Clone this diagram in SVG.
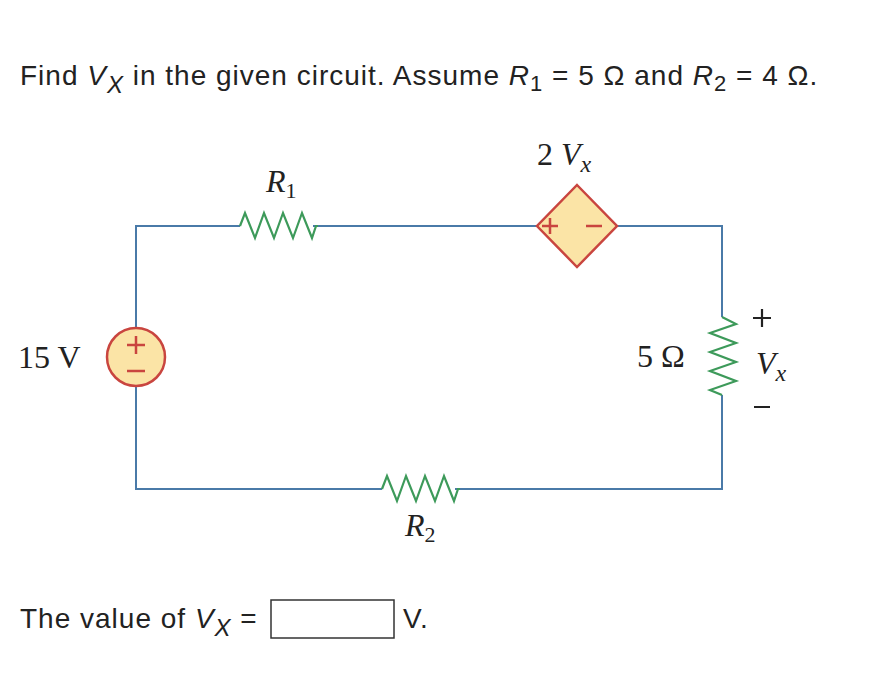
<svg xmlns="http://www.w3.org/2000/svg" width="880" height="678" viewBox="0 0 880 678">
<style>
.w{fill:none;stroke:#4a7aa8;stroke-width:2}
.r{fill:none;stroke:#3d9a5a;stroke-width:2.2;stroke-linejoin:miter}
.src{fill:#fbe4a6;stroke:#c9453f;stroke-width:2.5}
.pm{stroke:#c9453f;stroke-width:2.5;fill:none}
.q{font-family:"Liberation Sans",Arial,sans-serif;font-size:28px;fill:#222;letter-spacing:1px}
.c{font-family:"Liberation Serif","Times New Roman",serif;font-size:32px;fill:#222}
</style>
<rect width="880" height="678" fill="#fff"/>
<text class="q" x="20" y="85">Find <tspan font-style="italic">V</tspan><tspan font-style="italic" font-size="24" dy="8">X</tspan><tspan dy="-8"> in the given circuit. Assume </tspan><tspan font-style="italic">R</tspan><tspan font-size="22" dy="6">1</tspan><tspan dy="-6"> = 5 Ω and </tspan><tspan font-style="italic">R</tspan><tspan font-size="22" dy="6">2</tspan><tspan dy="-6"> = 4 Ω.</tspan></text>
<g id="connectors">
<path class="w" d="M240,226 H136 V327 M136,387 V489 H382 M455,489 H722 V395 M722,317 V226 H617 M537,226 H313"/>
</g>
<g id="src15">
<circle class="src" cx="136" cy="357" r="29"/>
<path class="pm" d="M127,345 H145 M136,336 V354 M127,371 H145"/>
<text class="c" x="18" y="368">15 V</text>
</g>
<g id="R1">
<path class="r" d="M240,226 L245,213 L255,238 L264,213 L274,238 L283,213 L293,238 L302,213 L312,238 L316,226 L318,226"/>
<text class="c" x="266" y="192" font-style="italic">R<tspan font-style="normal" font-size="22" dy="6">1</tspan></text>
</g>
<g id="dep">
<path class="src" d="M577,185 L617,226 L577,267 L537,226 Z"/>
<path class="pm" d="M542,226 H558 M550,218 V234 M586,226 H602"/>
<text class="c" x="537" y="165">2 <tspan font-style="italic">V</tspan><tspan font-style="italic" font-size="24" dy="7">x</tspan></text>
</g>
<g id="R5">
<path class="r" d="M722,317 L736,324 L710,333 L736,343 L710,352 L736,362 L710,371 L736,381 L710,390 L722,395"/>
<text class="c" x="637" y="367">5 Ω</text>
<path stroke="#222" stroke-width="2.2" d="M753,318 H771 M762,309 V327 M754,407 H770"/>
<text class="c" x="756" y="374" font-style="italic">V<tspan font-size="24" dy="7">x</tspan></text>
</g>
<g id="R2">
<path class="r" d="M382,489 L387,476 L397,501 L406,476 L416,501 L425,476 L435,501 L444,476 L454,501 L458,489 L460,489"/>
<text class="c" x="405" y="536" font-style="italic">R<tspan font-style="normal" font-size="22" dy="6">2</tspan></text>
</g>
<text class="q" x="20" y="628">The value of <tspan font-style="italic">V</tspan><tspan font-style="italic" font-size="24" dy="8">X</tspan><tspan dy="-8"> =</tspan></text>
<rect x="271" y="600" width="123" height="38" fill="#fff" stroke="#333" stroke-width="1.5"/>
<text class="q" x="403" y="628">V.</text>
</svg>
